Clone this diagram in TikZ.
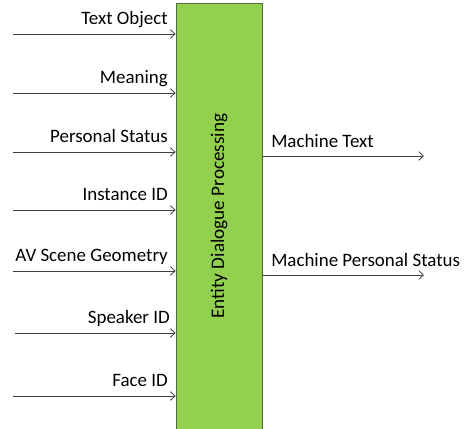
\documentclass[tikz,border=0pt]{standalone}
\usepackage{fontspec}
\setmainfont{Carlito}
\usetikzlibrary{arrows.meta,positioning}
\definecolor{boxgreen}{HTML}{92D050}
\definecolor{boxedge}{HTML}{4F6B3A}
\definecolor{linegray}{HTML}{404040}

\begin{document}
\begin{tikzpicture}[x=0.75pt,y=-0.75pt,
  flow/.style={-{Straight Barb[length=3.5pt,width=6.5pt]},linegray,line width=0.6pt},
  inlabel/.style={anchor=base east,inner sep=0pt,font=\fontsize{14.2}{17}\selectfont},
  outlabel/.style={anchor=base west,inner sep=0pt,font=\fontsize{14.2}{17}\selectfont}]
\useasboundingbox (0,0) rectangle (474,428);
% processing block
\node[draw=boxedge,fill=boxgreen,line width=0.6pt,inner sep=0pt,
  minimum width=64.5pt,minimum height=319.5pt] (edp) at (219,216) {};
\node[rotate=90,font=\fontsize{14.4}{17}\selectfont] (edplabel) at (edp.center) {Entity Dialogue Processing};
% inputs
\coordinate (in1) at (13,34);
\coordinate (in2) at (13,93);
\coordinate (in3) at (13,152);
\coordinate (in4) at (13,210);
\coordinate (in5) at (13,271);
\coordinate (in6) at (15,333);
\coordinate (in7) at (13,396);
\draw[flow] (in1) -- (in1 -| edp.west);
\draw[flow] (in2) -- (in2 -| edp.west);
\draw[flow] (in3) -- (in3 -| edp.west);
\draw[flow] (in4) -- (in4 -| edp.west);
\draw[flow] (in5) -- (in5 -| edp.west);
\draw[flow] (in6) -- (in6 -| edp.west);
\draw[flow] (in7) -- (in7 -| edp.west);
\node[inlabel] (lab1) at (168,24.5) {Text Object};
\node[inlabel] (lab2) at (168,83.5) {Meaning};
\node[inlabel] (lab3) at (168,142.5) {Personal Status};
\node[inlabel] (lab4) at (168,200.5) {Instance ID};
\node[inlabel] (lab5) at (168,261.5) {AV Scene Geometry};
\node[inlabel] (lab6) at (170,323.5) {Speaker ID};
\node[inlabel] (lab7) at (168,386.5) {Face ID};
% outputs
\coordinate (out1) at (424,156);
\coordinate (out2) at (424,275);
\draw[flow] (out1 -| edp.east) -- (out1);
\draw[flow] (out2 -| edp.east) -- (out2);
\node[outlabel] (mtext) at (271,147) {Machine Text};
\node[outlabel] (mstatus) at (271,266) {Machine Personal Status};
\end{tikzpicture}
\end{document}
